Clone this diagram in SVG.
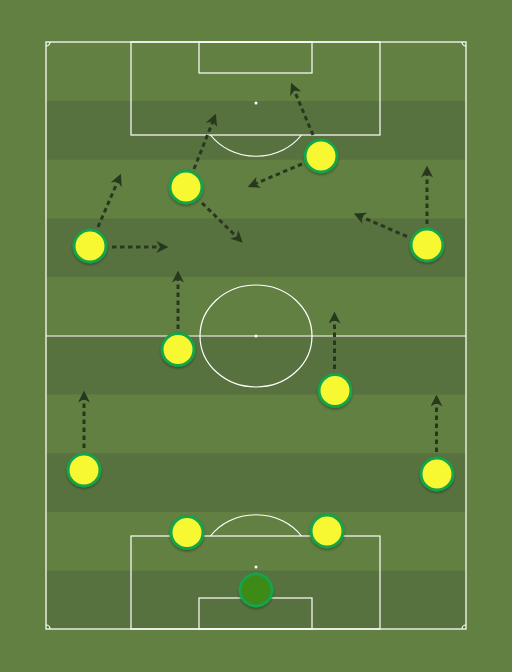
<svg xmlns="http://www.w3.org/2000/svg" width="512" height="672" viewBox="0 0 512 672">
<defs>
<style>
.line{fill:none;stroke:#ffffff;stroke-width:1.2}
.outer{fill:none;stroke:#e6ebdc;stroke-width:1.5}
.dark{fill:#58723f}
.arrow{fill:none;stroke:#28381f;stroke-width:3;stroke-dasharray:4.5 3.5;marker-end:url(#ah)}
.pl circle{fill:#f8f832;stroke:#12a34a;stroke-width:3}
.gk circle{fill:#3d8a18;stroke:#12a34a;stroke-width:3}
</style>
<marker id="ah" markerUnits="userSpaceOnUse" markerWidth="12" markerHeight="12" viewBox="0 0 10 10" refX="8" refY="5" orient="auto">
<path d="M0,0 L10,5 L0,10 L3,5 z" fill="#28381f"/>
</marker>
<filter id="sh" x="-30%" y="-30%" width="160%" height="170%">
<feDropShadow dx="0" dy="1.5" stdDeviation="1.2" flood-color="#000" flood-opacity="0.35"/>
</filter>
</defs>
<rect width="512" height="672" fill="#628041"/>
<g id="pitch">
<rect class="dark" x="46" y="101" width="420" height="58.7"/>
<rect class="dark" x="46" y="218.4" width="420" height="58.7"/>
<rect class="dark" x="46" y="335.8" width="420" height="58.7"/>
<rect class="dark" x="46" y="453.2" width="420" height="58.7"/>
<rect class="dark" x="46" y="570.6" width="420" height="58.4"/>
<rect class="outer" x="46" y="42" width="420" height="587"/>
<line class="line" x1="46" y1="336" x2="466" y2="336"/>
<ellipse class="line" cx="256" cy="336" rx="56" ry="51"/>
<circle cx="256" cy="336" r="1.5" fill="#fff"/>
<rect class="line" x="131" y="42" width="249" height="93"/>
<rect class="line" x="199" y="42" width="113" height="31"/>
<circle cx="256" cy="103" r="1.5" fill="#fff"/>
<path class="line" d="M210.5,135 A56,51 0 0 0 301.5,135"/>
<rect class="line" x="131" y="536" width="249" height="93"/>
<rect class="line" x="199" y="598" width="113" height="31"/>
<circle cx="256" cy="567" r="1.5" fill="#fff"/>
<path class="line" d="M210.5,536 A56,51 0 0 1 301.5,536"/>
<path class="line" d="M46,46 A4,4 0 0 0 50,42"/>
<path class="line" d="M462,42 A4,4 0 0 0 466,46"/>
<path class="line" d="M46,625 A4,4 0 0 1 50,629"/>
<path class="line" d="M462,629 A4,4 0 0 1 466,625"/>
</g>
<g id="connectors">
<line class="arrow" x1="98" y1="227" x2="120" y2="176"/>
<line class="arrow" x1="112" y1="247" x2="166" y2="247"/>
<line class="arrow" x1="194" y1="169" x2="215" y2="116"/>
<line class="arrow" x1="202" y1="203" x2="241" y2="241"/>
<line class="arrow" x1="313" y1="135" x2="292" y2="85"/>
<line class="arrow" x1="302" y1="164" x2="250" y2="186"/>
<line class="arrow" x1="427" y1="224" x2="427" y2="168"/>
<line class="arrow" x1="407" y1="236.5" x2="356" y2="214.5"/>
<line class="arrow" x1="178" y1="329" x2="178" y2="273"/>
<line class="arrow" x1="334.5" y1="369" x2="334.5" y2="314"/>
<line class="arrow" x1="84" y1="448" x2="84" y2="393"/>
<line class="arrow" x1="436.5" y1="452" x2="436.5" y2="397"/>
</g>
<g id="p1" class="pl" filter="url(#sh)"><circle cx="90" cy="246" r="16"/></g>
<g id="p2" class="pl" filter="url(#sh)"><circle cx="186" cy="187" r="16"/></g>
<g id="p3" class="pl" filter="url(#sh)"><circle cx="321" cy="156" r="16"/></g>
<g id="p4" class="pl" filter="url(#sh)"><circle cx="427" cy="245" r="16"/></g>
<g id="p5" class="pl" filter="url(#sh)"><circle cx="178" cy="349.5" r="16"/></g>
<g id="p6" class="pl" filter="url(#sh)"><circle cx="335" cy="390.5" r="16"/></g>
<g id="p7" class="pl" filter="url(#sh)"><circle cx="84" cy="470" r="16"/></g>
<g id="p8" class="pl" filter="url(#sh)"><circle cx="437" cy="474" r="16"/></g>
<g id="p9" class="pl" filter="url(#sh)"><circle cx="187" cy="532.5" r="16"/></g>
<g id="p10" class="pl" filter="url(#sh)"><circle cx="327" cy="531" r="16"/></g>
<g id="gk" class="gk" filter="url(#sh)"><circle cx="256" cy="590" r="16"/></g>
</svg>
